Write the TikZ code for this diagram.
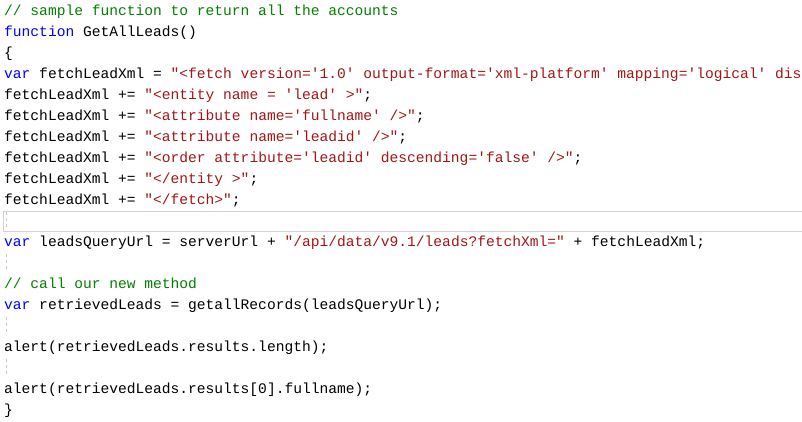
\documentclass[tikz,border=0pt]{standalone}
\usepackage{fontspec}
\setmonofont{Liberation Mono}
\definecolor{kwblue}{RGB}{0,0,255}
\definecolor{strred}{RGB}{163,21,21}
\definecolor{cmgreen}{RGB}{0,128,0}
\definecolor{guide}{RGB}{200,200,200}
\newcommand{\kw}[1]{\textcolor{kwblue}{#1}}
\newcommand{\str}[1]{\textcolor{strred}{#1}}
\newcommand{\cm}[1]{\textcolor{cmgreen}{#1}}
\tikzset{codeline/.style={anchor=base west,inner sep=0pt,font=\ttfamily\fontsize{14.6}{17}\selectfont}}
\begin{document}
\begin{tikzpicture}[x=1pt,y=1pt,yscale=-1]
\useasboundingbox (0,0) rectangle (802,421);
\clip (0,0) rectangle (802,421);
% current line highlight
\draw [color=guide!80, line width=1] (3,211) rectangle (803,231);
% indent guides on empty lines
\draw [guide, dashed, line width=0.5] (6,212) -- (6,230);
\draw [guide, dashed, line width=0.5] (6,254) -- (6,272);
\draw [guide, dashed, line width=0.5] (6,317) -- (6,335);
\draw [guide, dashed, line width=0.5] (6,359) -- (6,377);

% code lines
\node [codeline] (l1) at (4,15) {\cm{// sample function to return all the accounts}};
\node [codeline] (l2) at (4,36) {\kw{function} GetAllLeads()};
\node [codeline] (l3) at (4,57) {\{};
\node [codeline] (l4) at (4,78) {\kw{var} fetchLeadXml = \str{"<fetch version='1.0' output-format='xml-platform' mapping='logical' distinct='false'>"};};
\node [codeline] (l5) at (4,99) {fetchLeadXml += \str{"<entity name = 'lead' >"};};
\node [codeline] (l6) at (4,120) {fetchLeadXml += \str{"<attribute name='fullname' />"};};
\node [codeline] (l7) at (4,141) {fetchLeadXml += \str{"<attribute name='leadid' />"};};
\node [codeline] (l8) at (4,162) {fetchLeadXml += \str{"<order attribute='leadid' descending='false' />"};};
\node [codeline] (l9) at (4,183) {fetchLeadXml += \str{"</entity >"};};
\node [codeline] (l10) at (4,204) {fetchLeadXml += \str{"</fetch>"};};
\node [codeline] (l12) at (4,246) {\kw{var} leadsQueryUrl = serverUrl + \str{"/api/data/v9.1/leads?fetchXml="} + fetchLeadXml;};
\node [codeline] (l14) at (4,288) {\cm{// call our new method}};
\node [codeline] (l15) at (4,309) {\kw{var} retrievedLeads = getallRecords(leadsQueryUrl);};
\node [codeline] (l17) at (4,351) {alert(retrievedLeads.results.length);};
\node [codeline] (l19) at (4,393) {alert(retrievedLeads.results[0].fullname);};
\node [codeline] (l20) at (4,414) {\}};
\end{tikzpicture}
\end{document}
